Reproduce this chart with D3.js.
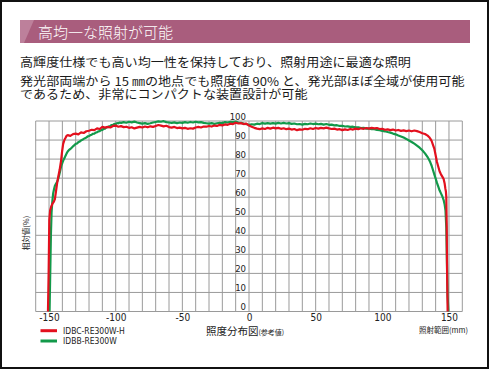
<!DOCTYPE html>
<html>
<head>
<meta charset="utf-8">
<script src="https://cdn.jsdelivr.net/npm/d3@7"></script>
<style>
html, body { margin: 0; padding: 0; background: #fff; }
svg { display: block; }
</style>
</head>
<body>
<svg id="chart" width="490" height="370"></svg>
<script>
// axis ticks
var xTicks = [-150, -100, -50, 0, 50, 100, 150];
var yTicks = [0, 10, 20, 30, 40, 50, 60, 70, 80, 90, 100];

// legend names
var seriesNames = ["IDBC-RE300W-H", "IDBB-RE300W"];

// [position mm, relative value %]
var redCurve = [
  [-150.8,0],[-150.3,20],[-149.8,48],[-149.2,53],[-148.4,55],[-147.5,56.5],[-146.5,57.5],[-145.6,59],
  [-144.8,63],[-144,67],[-143,71],[-142,74.5],[-141,79],[-140.2,84],[-139.4,88],[-138.5,90],[-137.5,91.3],[-136.8,92.3],
  [-136,92.6],[-134,92.2],[-132,93.1],[-130,93.4],[-128,93.0],[-126,94.0],[-124,93.7],[-122,94.6],[-120,94.9],
  [-118,95.4],[-116,95.2],[-114,96.1],[-112,95.8],[-110,96.9],[-108,96.5],[-106,96.9],[-104,96.6],[-102,97.4],
  [-100,97.6],[-98,97.0],[-96,97.3],[-94,96.8],[-92,97.0],[-90,96.4],[-88,96.7],[-86,96.1],[-84,96.5],[-82,96.9],
  [-80,96.6],[-78,97.1],[-76,96.7],[-74,97.2],[-72,96.9],[-70,97.4],[-68,97.9],[-66,97.6],[-64,97.2],[-62,97.5],
  [-60,96.8],[-58,96.5],[-56,96.9],[-54,96.3],[-52,96.5],[-50,96.1],[-48,96.4],[-46,95.9],[-44,96.2],[-42,96.0],
  [-40,96.6],[-38,96.9],[-36,96.6],[-34,97.1],[-32,97.0],[-30,97.4],[-28,97.1],[-26,97.6],[-24,97.4],[-22,98.0],
  [-20,97.7],[-18,98.2],[-16,98.0],[-14,98.6],[-12,98.4],[-10,99.1],[-8,98.7],[-6,98.9],[-4,98.4],[-2,98.6],
  [0,97.6],[2,97.0],[4,96.4],[6,96.0],[8,95.7],[10,96.1],[12,95.8],[14,96.4],[16,96.0],[18,96.5],
  [20,96.1],[22,96.4],[24,95.9],[26,96.2],[28,95.7],[30,96.0],[32,95.5],[34,95.8],[36,95.2],[38,95.6],
  [40,95.4],[42,95.9],[44,95.7],[46,96.2],[48,95.8],[50,96.3],[52,96.0],[54,96.4],[56,96.1],[58,96.5],
  [60,96.1],[62,95.8],[64,96.0],[66,95.5],[68,95.7],[70,95.2],[72,95.6],[74,95.3],[76,95.8],[78,95.5],
  [80,96.0],[82,95.7],[84,96.2],[86,95.9],[88,96.3],[90,96.0],[92,96.4],[94,96.1],[96,96.3],[98,95.8],
  [100,95.9],[102,95.4],[104,95.6],[106,95.2],[108,95.5],[110,95.0],[112,95.3],[114,94.8],[116,95.1],[118,94.7],
  [120,95.0],[122,94.6],[124,95.0],[126,94.7],[128,94.2],[130,93.6],[132,93.2],[134,92.3],
  [135.2,91.5],[136.2,90.5],[137,89.5],[138,87.5],[139,85.5],[140,82],[141,78.5],[142,76],[143,73.5],[144,72],
  [145,70.8],[146,69.5],[146.8,67],[147.3,64.5],[147.7,63],[148,60],[148.3,45],[148.6,20],[149,0]
];

var greenCurve = [
  [-149.6,0],[-149.1,20],[-148.6,40],[-148.1,52],[-147.5,58],[-146.9,62],[-146.3,64],[-145.6,66],[-144.8,67],
  [-144,68],[-143.2,69.5],[-142.4,71.5],[-141.6,74],[-140.8,76.5],[-140,78],[-139.2,79.5],[-138.4,80.5],[-137.6,81.8],
  [-136.8,83],[-136,84],[-135,84.8],[-134,85.3],[-133,86],[-132,86.7],[-131,87.3],[-130,88],[-129,88.2],[-128,88.9],
  [-127,89.2],[-126,89.8],[-125,90.1],[-124,90.6],[-123,91],[-122,91.3],[-121,91.9],[-120,92.1],[-119,92.6],[-118,92.8],
  [-117,93.3],[-116,93.4],[-115,93.9],[-114,94.1],[-113,94.6],[-112,94.7],[-111,95.2],[-110,95.3],[-109,95.9],[-108,96.0],
  [-107,96.6],[-106,96.7],[-105,97.2],[-104,97.4],[-103,97.9],[-102,98.0],[-101,98.5],[-100,98.4],[-99,98.9],[-98,98.8],
  [-97,99.2],[-96,99.0],[-94,99.4],[-92,99.1],[-90,99.6],[-88,99.3],[-86,99.7],[-84,99.2],[-82,98.9],[-80,98.6],
  [-78,98.9],[-76,98.5],[-74,98.8],[-72,99.2],[-70,99.5],[-68,99.8],[-66,99.6],[-64,99.9],[-62,99.4],[-60,99.2],
  [-58,99.0],[-56,99.3],[-54,98.9],[-52,99.2],[-50,99.0],[-48,99.4],[-46,99.1],[-44,99.5],[-42,99.2],[-40,99.6],
  [-38,99.3],[-36,99.4],[-34,99.0],[-32,98.8],[-30,98.6],[-28,98.9],[-26,98.5],[-24,98.8],[-22,99.1],[-20,98.9],
  [-18,99.4],[-16,99.2],[-14,99.6],[-12,99.4],[-10,99.7],[-8,99.2],[-6,99.0],[-4,98.6],[-2,98.4],[0,98.0],
  [2,98.3],[4,98.1],[6,98.6],[8,98.4],[10,98.9],[12,98.6],[14,98.9],[16,98.6],[18,98.9],[20,98.6],
  [22,99.0],[24,98.7],[26,99.0],[28,98.7],[30,98.9],[32,98.5],[34,98.7],[36,98.3],[38,98.4],[40,98.1],
  [42,98.5],[44,98.3],[46,98.7],[48,98.4],[50,98.6],[52,98.3],[54,98.5],[56,98.1],[58,98.4],[60,98.0],
  [62,98.1],[64,97.7],[66,97.8],[68,97.4],[70,97.5],[72,97.1],[74,97.2],[76,96.9],[78,97.0],[80,96.7],
  [82,96.7],[84,96.3],[86,96.4],[88,96.0],[90,96.1],[92,95.7],[94,95.7],[96,95.3],[98,95.2],[100,94.8],
  [102,94.6],[104,94.2],[106,93.9],[108,93.4],[110,93.0],[112,92.4],[114,91.9],[116,91.3],[118,90.6],[120,89.8],
  [122,89.0],[124,88.1],[126,87.1],[128,86.0],[130,84.6],[132,83.0],[134,81.0],[135,79.8],[136,78.3],[137,76.5],
  [138,74.3],[139,72.0],[140,69.8],[141,67.5],[142,65.5],[143,63.5],[144,62],[145,60.5],[146,58.5],[146.8,56],
  [147.4,53],[148,44],[148.5,25],[149,8],[149.6,0]
];

var svg = d3.select("#chart");

// outer frame
svg.append("rect")
  .attr("x", 1).attr("y", 1)
  .attr("width", 487).attr("height", 367)
  .attr("fill", "#fff")
  .attr("stroke", "#111")
  .attr("stroke-width", 2);

// header bar
svg.append("rect")
  .attr("x", 20).attr("y", 20)
  .attr("width", 450).attr("height", 23)
  .attr("fill", "#a95d7d");
svg.append("path")
  .attr("d", "M20,20 L34,20 L24,43 L20,43 Z")
  .attr("fill", "#c28aa2")
  .attr("opacity", 0.8);
svg.append("text")
  .attr("x", 38).attr("y", 38)
  .attr("fill", "#fff")
  .style("font-family", "'Noto Sans CJK JP', sans-serif")
  .style("font-size", "15px")
  .style("font-weight", 300)
  .text("高均一な照射が可能");

// body text: the source glyphs are a little wider than tall, so stretch sideways
var bodyFont = "'Noto Sans CJK JP', sans-serif";
svg.append("text")
  .attr("transform", "translate(20,67) scale(1.09,1)")
  .attr("fill", "#1a1a1a")
  .style("font-family", bodyFont)
  .style("font-size", "12px")
  .text("高輝度仕様でも高い均一性を保持しており、照射用途に最適な照明");

// second paragraph wraps onto two tight lines
var para = svg.append("text")
  .attr("transform", "translate(20,86) scale(1.09,1)")
  .attr("fill", "#1a1a1a")
  .style("font-family", bodyFont)
  .style("font-size", "12px");
para.append("tspan").attr("x", 0).attr("dy", 0)
  .text("発光部両端から 15 ㎜の地点でも照度値 90% と、発光部ほぼ全域が使用可能");
para.append("tspan").attr("x", 0).attr("dy", 13)
  .text("であるため、非常にコンパクトな装置設計が可能");

// plot
var x = d3.scaleLinear().domain([-160, 160]).range([35.7, 462.3]);
var y = d3.scaleLinear().domain([0, 100]).range([311.5, 121]);
var narrow = "'Liberation Sans Narrow', 'DejaVu Sans Condensed', 'Arial Narrow', sans-serif";

var grid = svg.append("g");
grid.selectAll(".vg")
  .data(d3.range(-160, 161, 10))
  .enter().append("line")
  .attr("x1", function(d) { return x(d); })
  .attr("x2", function(d) { return x(d); })
  .attr("y1", y(0)).attr("y2", y(100))
  .attr("stroke", "#9a9a9a").attr("stroke-width", 1);
grid.selectAll(".hg")
  .data(yTicks)
  .enter().append("line")
  .attr("x1", x(-160)).attr("x2", x(160))
  .attr("y1", function(d) { return y(d); })
  .attr("y2", function(d) { return y(d); })
  .attr("stroke", "#9a9a9a").attr("stroke-width", 1);

var line = d3.line()
  .x(function(d) { return x(d[0]); })
  .y(function(d) { return y(d[1]); });

svg.append("path")
  .datum(greenCurve)
  .attr("fill", "none")
  .attr("stroke", "#12994a")
  .attr("stroke-width", 2.2)
  .attr("stroke-linejoin", "round")
  .attr("d", line);
svg.append("path")
  .datum(redCurve)
  .attr("fill", "none")
  .attr("stroke", "#e3101e")
  .attr("stroke-width", 2.2)
  .attr("stroke-linejoin", "round")
  .attr("d", line);

// x axis labels
var xAxis = d3.axisBottom(x).tickValues(xTicks).tickSize(0).tickPadding(2)
  .tickFormat(function(d) { return String(d); });
var gx = svg.append("g")
  .attr("transform", "translate(0," + y(0) + ")")
  .call(xAxis);
gx.select(".domain").remove();
gx.selectAll("text")
  .attr("fill", "#222")
  .style("font-family", narrow)
  .style("font-size", "10px");

// y labels sit in the middle of the plot, just above each line
var yAxis = d3.axisLeft(y).tickValues(yTicks).tickSize(0).tickPadding(3);
var gy = svg.append("g")
  .attr("transform", "translate(" + x(0) + ",0)")
  .call(yAxis);
gy.select(".domain").remove();
gy.selectAll("text")
  .attr("dy", -2)
  .attr("fill", "#222")
  .style("font-family", narrow)
  .style("font-size", "9.5px");

// axis titles
var xt = svg.append("text")
  .attr("x", 206).attr("y", 335)
  .attr("fill", "#222")
  .style("font-family", "'Noto Sans CJK JP', sans-serif")
  .style("font-size", "10.5px");
xt.append("tspan").text("照度分布図");
xt.append("tspan").style("font-size", "7px").text("(参考値)");

svg.append("text")
  .attr("x", 468).attr("y", 333)
  .attr("text-anchor", "end")
  .attr("fill", "#222")
  .style("font-family", "'Noto Sans CJK JP', sans-serif")
  .style("font-size", "7.5px")
  .text("照射範囲(mm)");

svg.append("text")
  .attr("transform", "translate(29,233) rotate(-90)")
  .attr("text-anchor", "middle")
  .attr("fill", "#222")
  .style("font-family", "'Noto Sans CJK JP', sans-serif")
  .style("font-size", "7.5px")
  .text("相対値(%)");

// legend
var legendColors = ["#e3101e", "#12994a"];
var legendY = [330.7, 341];
seriesNames.forEach(function(n, i) {
  svg.append("line")
    .attr("x1", 40.5).attr("x2", 57)
    .attr("y1", legendY[i]).attr("y2", legendY[i])
    .attr("stroke", legendColors[i])
    .attr("stroke-width", 3);
  svg.append("text")
    .attr("x", 63).attr("y", legendY[i] + 3)
    .attr("fill", "#222")
    .style("font-family", narrow)
    .style("font-size", "8.5px")
    .text(n);
});
</script>
</body>
</html>
